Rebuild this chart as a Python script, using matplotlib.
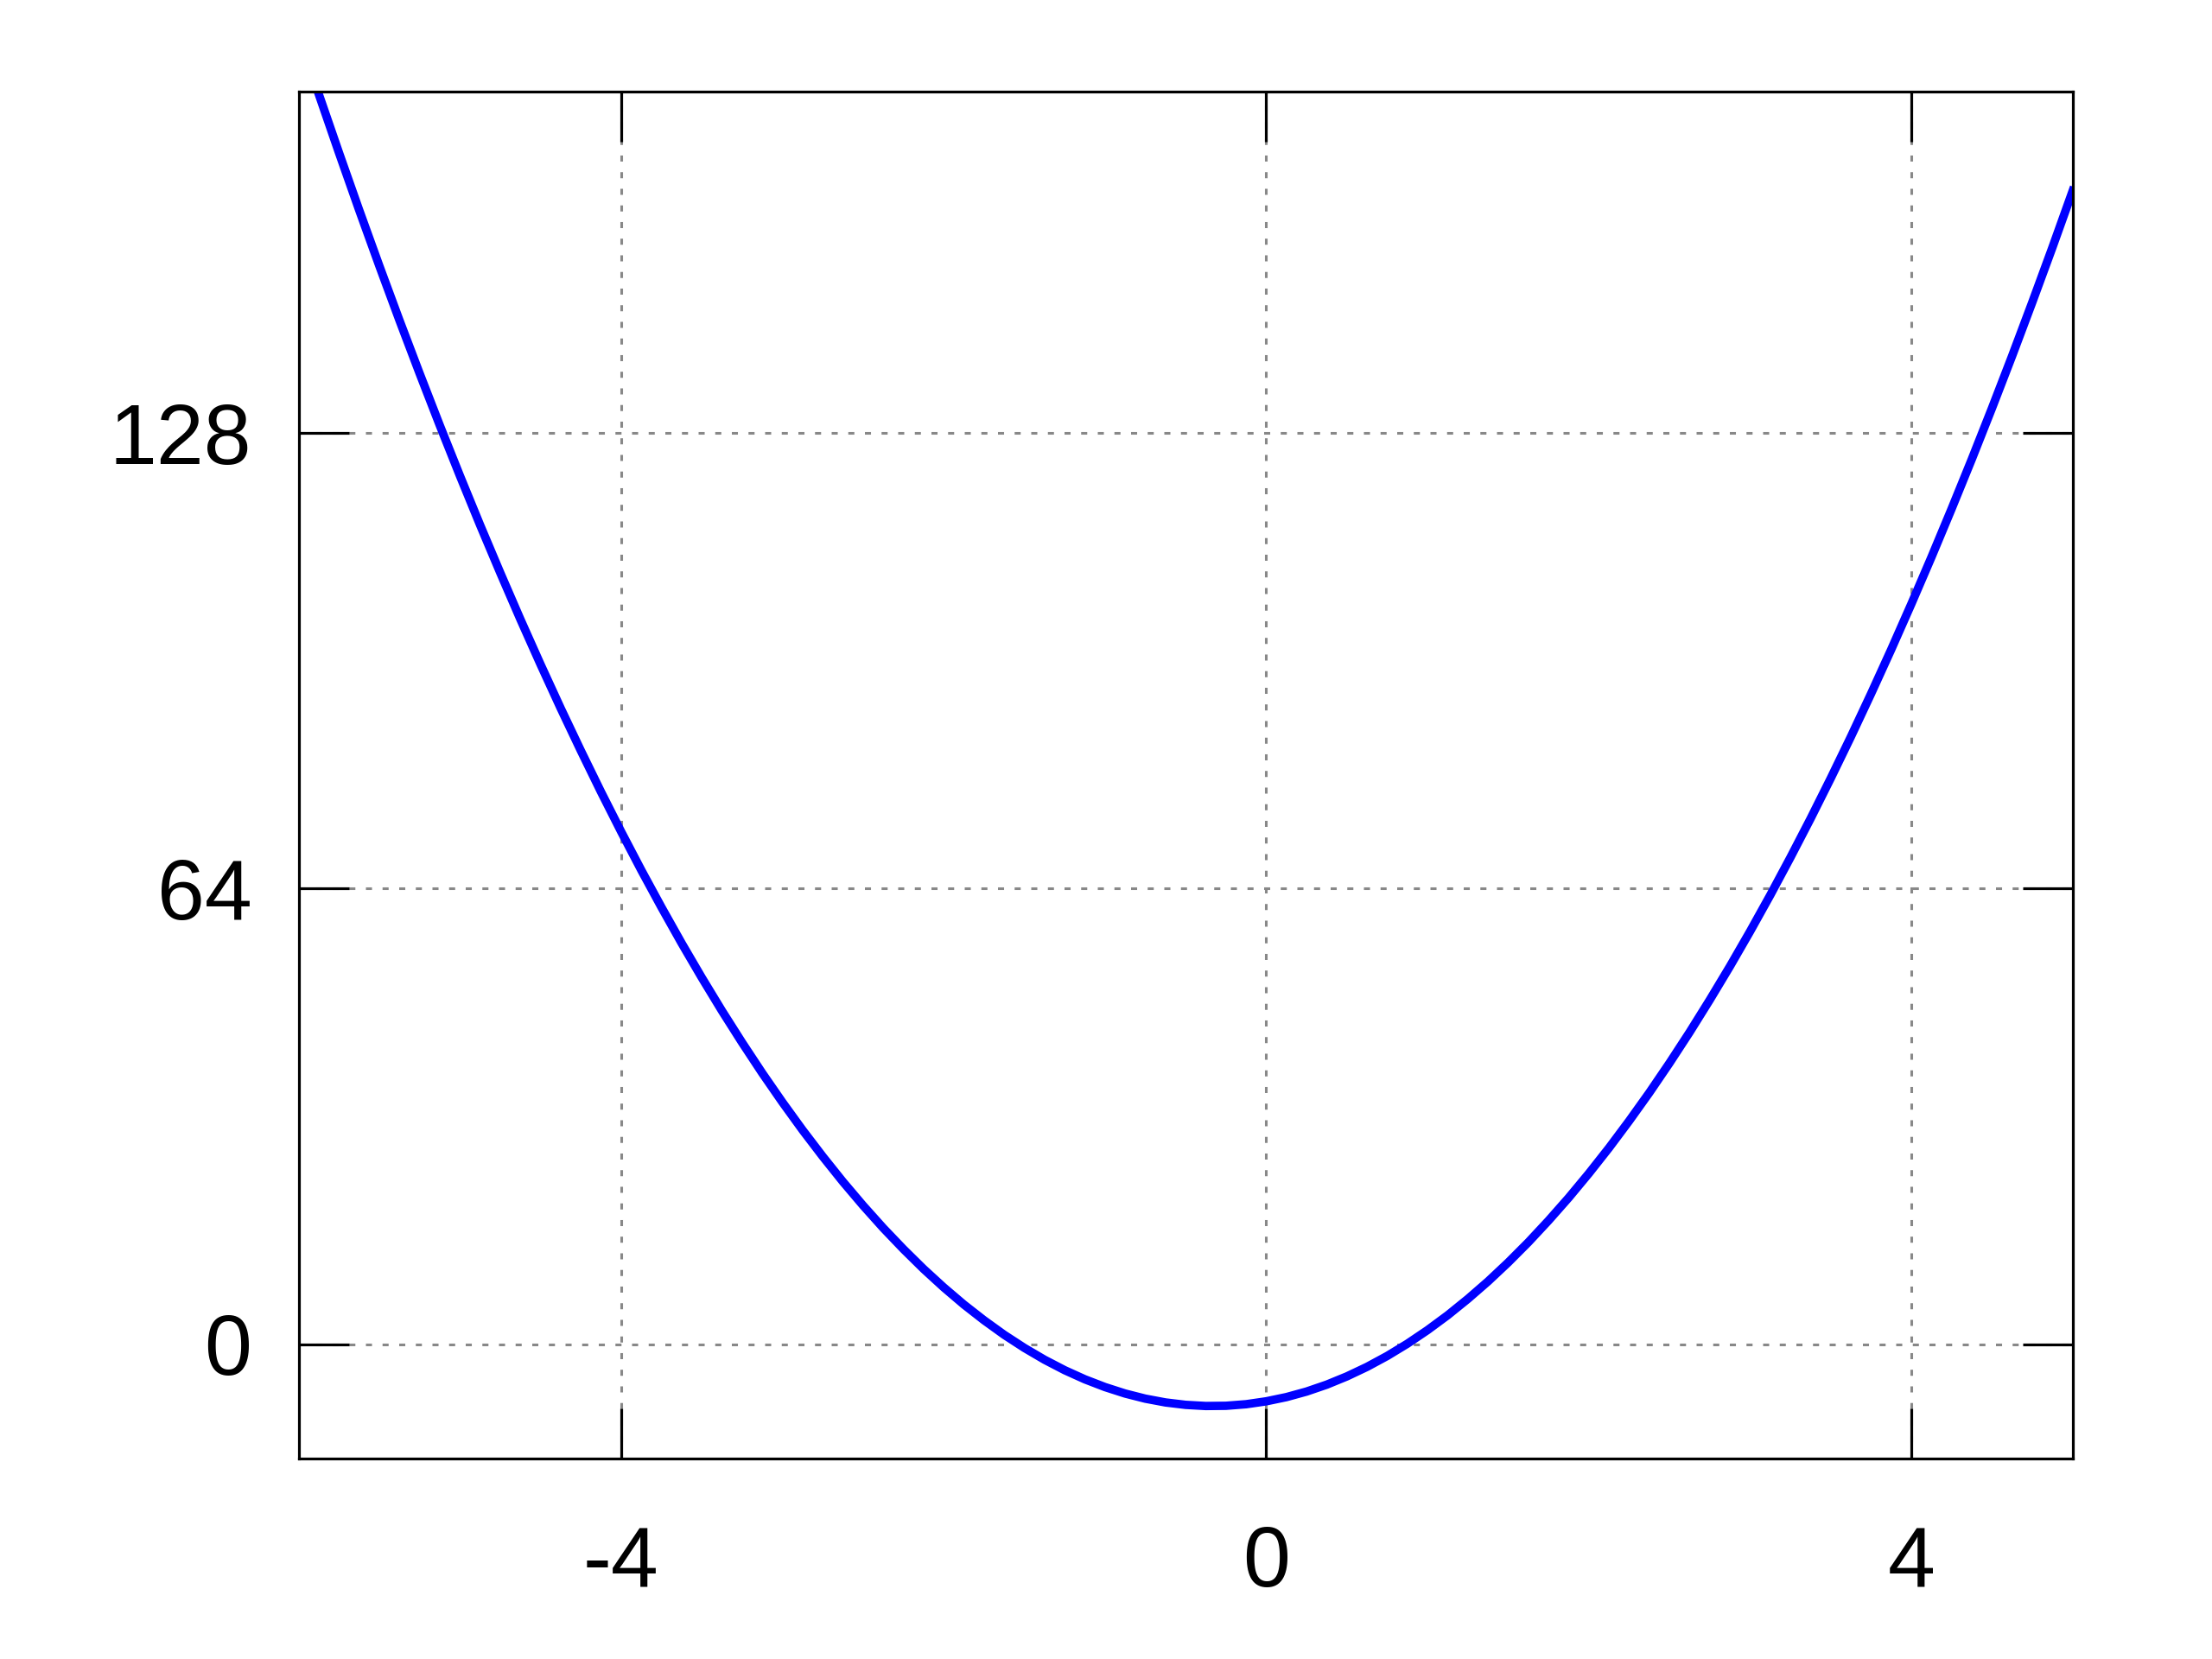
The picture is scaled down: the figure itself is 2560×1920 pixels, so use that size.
import matplotlib
matplotlib.use("Agg")
import matplotlib.pyplot as plt

# values
x = [-6.0, -5.875, -5.75, -5.625, -5.5, -5.375, -5.25, -5.125, -5.0,
     -4.875, -4.75, -4.625, -4.5, -4.375, -4.25, -4.125, -4.0,
     -3.875, -3.75, -3.625, -3.5, -3.375, -3.25, -3.125, -3.0,
     -2.875, -2.75, -2.625, -2.5, -2.375, -2.25, -2.125, -2.0,
     -1.875, -1.75, -1.625, -1.5, -1.375, -1.25, -1.125, -1.0,
     -0.875, -0.75, -0.625, -0.5, -0.375, -0.25, -0.125, 0.0,
     0.125, 0.25, 0.375, 0.5, 0.625, 0.75, 0.875, 1.0,
     1.125, 1.25, 1.375, 1.5, 1.625, 1.75, 1.875, 2.0,
     2.125, 2.25, 2.375, 2.5, 2.625, 2.75, 2.875, 3.0,
     3.125, 3.25, 3.375, 3.5, 3.625, 3.75, 3.875, 4.0,
     4.125, 4.25, 4.375, 4.5, 4.625, 4.75, 4.875, 5.0]
y = [184.0, 175.59, 167.38, 159.34, 151.5, 143.84, 136.38, 129.09, 122.0,
     115.09, 108.38, 101.84, 95.5, 89.34, 83.38, 77.59, 72.0,
     66.59, 61.38, 56.34, 51.5, 46.84, 42.38, 38.09, 34.0,
     30.09, 26.38, 22.84, 19.5, 16.34, 13.38, 10.59, 8.0,
     5.59, 3.38, 1.34, -0.5, -2.16, -3.63, -4.91, -6.0,
     -6.91, -7.63, -8.16, -8.5, -8.66, -8.63, -8.41, -8.0,
     -7.41, -6.63, -5.66, -4.5, -3.16, -1.63, 0.09, 2.0,
     4.09, 6.38, 8.84, 11.5, 14.34, 17.38, 20.59, 24.0,
     27.59, 31.38, 35.34, 39.5, 43.84, 48.38, 53.09, 58.0,
     63.09, 68.38, 73.84, 79.5, 85.34, 91.38, 97.59, 104.0,
     110.59, 117.38, 124.34, 131.5, 138.84, 146.38, 154.09, 162.0]

xticks = [-4, 0, 4]
yticks = [0, 64, 128]

plt.rcParams['font.family'] = ['Liberation Sans', 'DejaVu Sans']

fig = plt.figure(figsize=(25.6, 19.2), dpi=100)
ax = fig.add_axes([0.135, 0.121, 0.802, 0.824])

ax.plot(x, y, color='#0000ff', lw=7.0, solid_joinstyle='round', zorder=3)

ax.set_xlim(-6, 5)
ax.set_ylim(-16, 176)
ax.set_xticks(xticks)
ax.set_yticks(yticks)
ax.set_xticklabels([str(v) for v in xticks])
ax.set_yticklabels([str(v) for v in yticks])

ax.grid(True, color='#888888', lw=2.2, linestyle=(0, (2.3, 4.0)), zorder=1)
ax.tick_params(direction='in', length=42, width=2.3, color='black',
               top=True, right=True, labelsize=71, zorder=4)
ax.tick_params(axis='x', pad=56)
ax.tick_params(axis='y', pad=39)
for s in ax.spines.values():
    s.set_linewidth(2.3)
    s.set_zorder(5)

fig.savefig('out.png', dpi=100)
